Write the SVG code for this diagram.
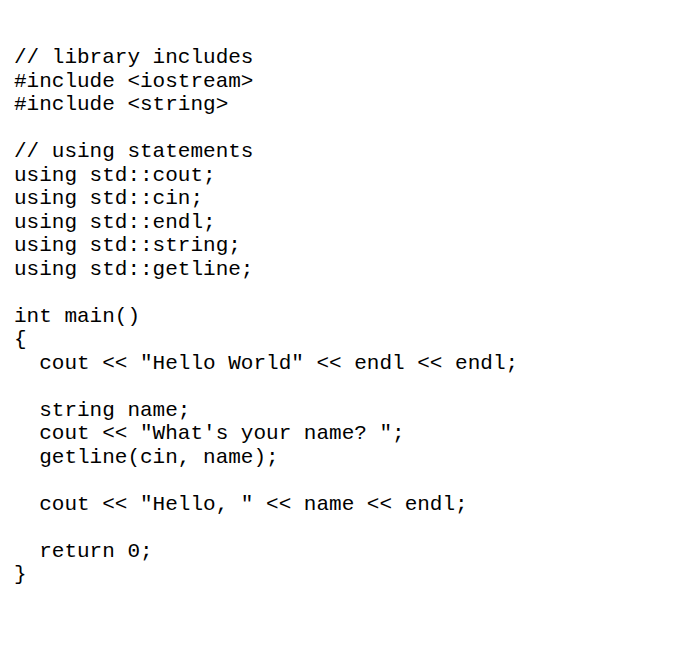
<svg xmlns="http://www.w3.org/2000/svg" width="700" height="649" viewBox="0 0 700 649">
<style>text{font-family:"Liberation Mono","DejaVu Sans Mono",monospace;font-size:21px;fill:#000;white-space:pre}</style>
<rect width="700" height="649" fill="#fff"/>
<g id="code" xml:space="preserve">
<text x="14" y="63">// library includes</text>
<text x="14" y="86.5">#include &lt;iostream&gt;</text>
<text x="14" y="110">#include &lt;string&gt;</text>
<text x="14" y="157">// using statements</text>
<text x="14" y="180.5">using std::cout;</text>
<text x="14" y="204">using std::cin;</text>
<text x="14" y="227.5">using std::endl;</text>
<text x="14" y="251">using std::string;</text>
<text x="14" y="274.5">using std::getline;</text>
<text x="14" y="321.5">int main()</text>
<text x="14" y="345">{</text>
<text x="14" y="368.5">  cout &lt;&lt; "Hello World" &lt;&lt; endl &lt;&lt; endl;</text>
<text x="14" y="415.5">  string name;</text>
<text x="14" y="439">  cout &lt;&lt; "What's your name? ";</text>
<text x="14" y="462.5">  getline(cin, name);</text>
<text x="14" y="509.5">  cout &lt;&lt; "Hello, " &lt;&lt; name &lt;&lt; endl;</text>
<text x="14" y="556.5">  return 0;</text>
<text x="14" y="580">}</text>
</g>
</svg>
